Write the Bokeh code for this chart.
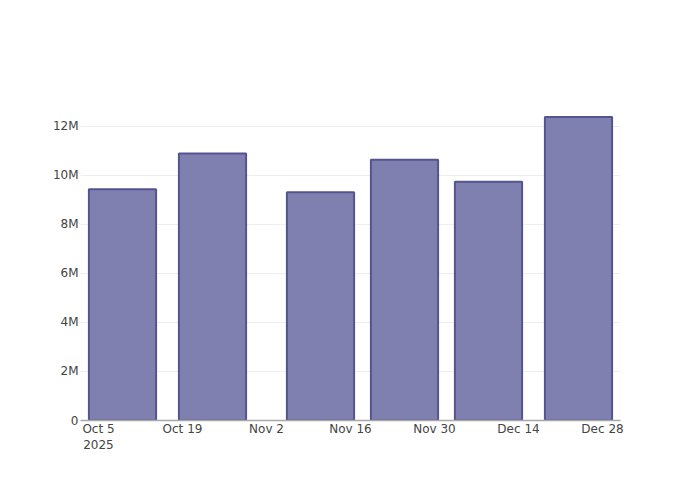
import pandas as pd
from bokeh.plotting import figure
from bokeh.models import ColumnDataSource, Range1d, FixedTicker
from bokeh.embed import file_html
from bokeh.resources import INLINE

# ---- data ----
bar_dates = ["2025-10-09", "2025-10-24", "2025-11-11", "2025-11-25", "2025-12-09", "2025-12-24"]
bar_values = [9.43e6, 10.89e6, 9.31e6, 10.63e6, 9.74e6, 12.38e6]

x_tick_dates = ["2025-10-05", "2025-10-19", "2025-11-02", "2025-11-16", "2025-11-30", "2025-12-14", "2025-12-28"]
x_tick_labels = ["Oct 5\n2025", "Oct 19", "Nov 2", "Nov 16", "Nov 30", "Dec 14", "Dec 28"]

y_ticks = [0, 2e6, 4e6, 6e6, 8e6, 10e6, 12e6]
y_tick_labels = ["0", "2M", "4M", "6M", "8M", "10M", "12M"]

x_start, x_end = "2025-10-02", "2025-12-31"
y_end = 13.05e6

DAY_MS = 86400000.0
def to_ms(s):
    return (pd.Timestamp(s) - pd.Timestamp("1970-01-01")) / pd.Timedelta(milliseconds=1)

src = ColumnDataSource(dict(x=[to_ms(d) for d in bar_dates], top=bar_values))

p = figure(width=684, height=484, output_backend="svg", toolbar_location=None,
           x_axis_type="datetime",
           x_range=Range1d(to_ms(x_start), to_ms(x_end)),
           y_range=Range1d(0, y_end),
           min_border_left=80, min_border_right=64, min_border_top=100, min_border_bottom=64)

p.vbar(x="x", top="top", bottom=0, width=0.8 * 14 * DAY_MS, source=src,
       fill_color="#7f7fb0", line_color="#54548f", line_width=2)

p.outline_line_color = None
p.background_fill_color = "white"
p.border_fill_color = "white"

p.xgrid.grid_line_color = None
p.ygrid.grid_line_color = "#eeeeee"
p.ygrid.grid_line_width = 1

font = "DejaVu Sans"

xt = [to_ms(d) for d in x_tick_dates]
p.xaxis.ticker = FixedTicker(ticks=xt)
p.xaxis.major_label_overrides = {t: l for t, l in zip(xt, x_tick_labels)}
p.xaxis.axis_line_color = "#a8a8a8"
p.xaxis.axis_line_width = 1.5
p.xaxis.major_tick_line_color = None
p.xaxis.minor_tick_line_color = None
p.xaxis.major_tick_in = 0
p.xaxis.major_tick_out = 0
p.xaxis.major_label_standoff = 1

p.yaxis.ticker = FixedTicker(ticks=y_ticks)
p.yaxis.major_label_overrides = {t: l for t, l in zip(y_ticks, y_tick_labels)}
p.yaxis.axis_line_color = None
p.yaxis.major_tick_line_color = None
p.yaxis.minor_tick_line_color = None
p.yaxis.major_tick_in = 0
p.yaxis.major_tick_out = 0
p.yaxis.major_label_standoff = 2

for ax in (p.xaxis, p.yaxis):
    ax.major_label_text_font = font
    ax.major_label_text_font_size = "12px"
    ax.major_label_text_color = "#444444"

open("out.html", "w").write(file_html(p, INLINE))
